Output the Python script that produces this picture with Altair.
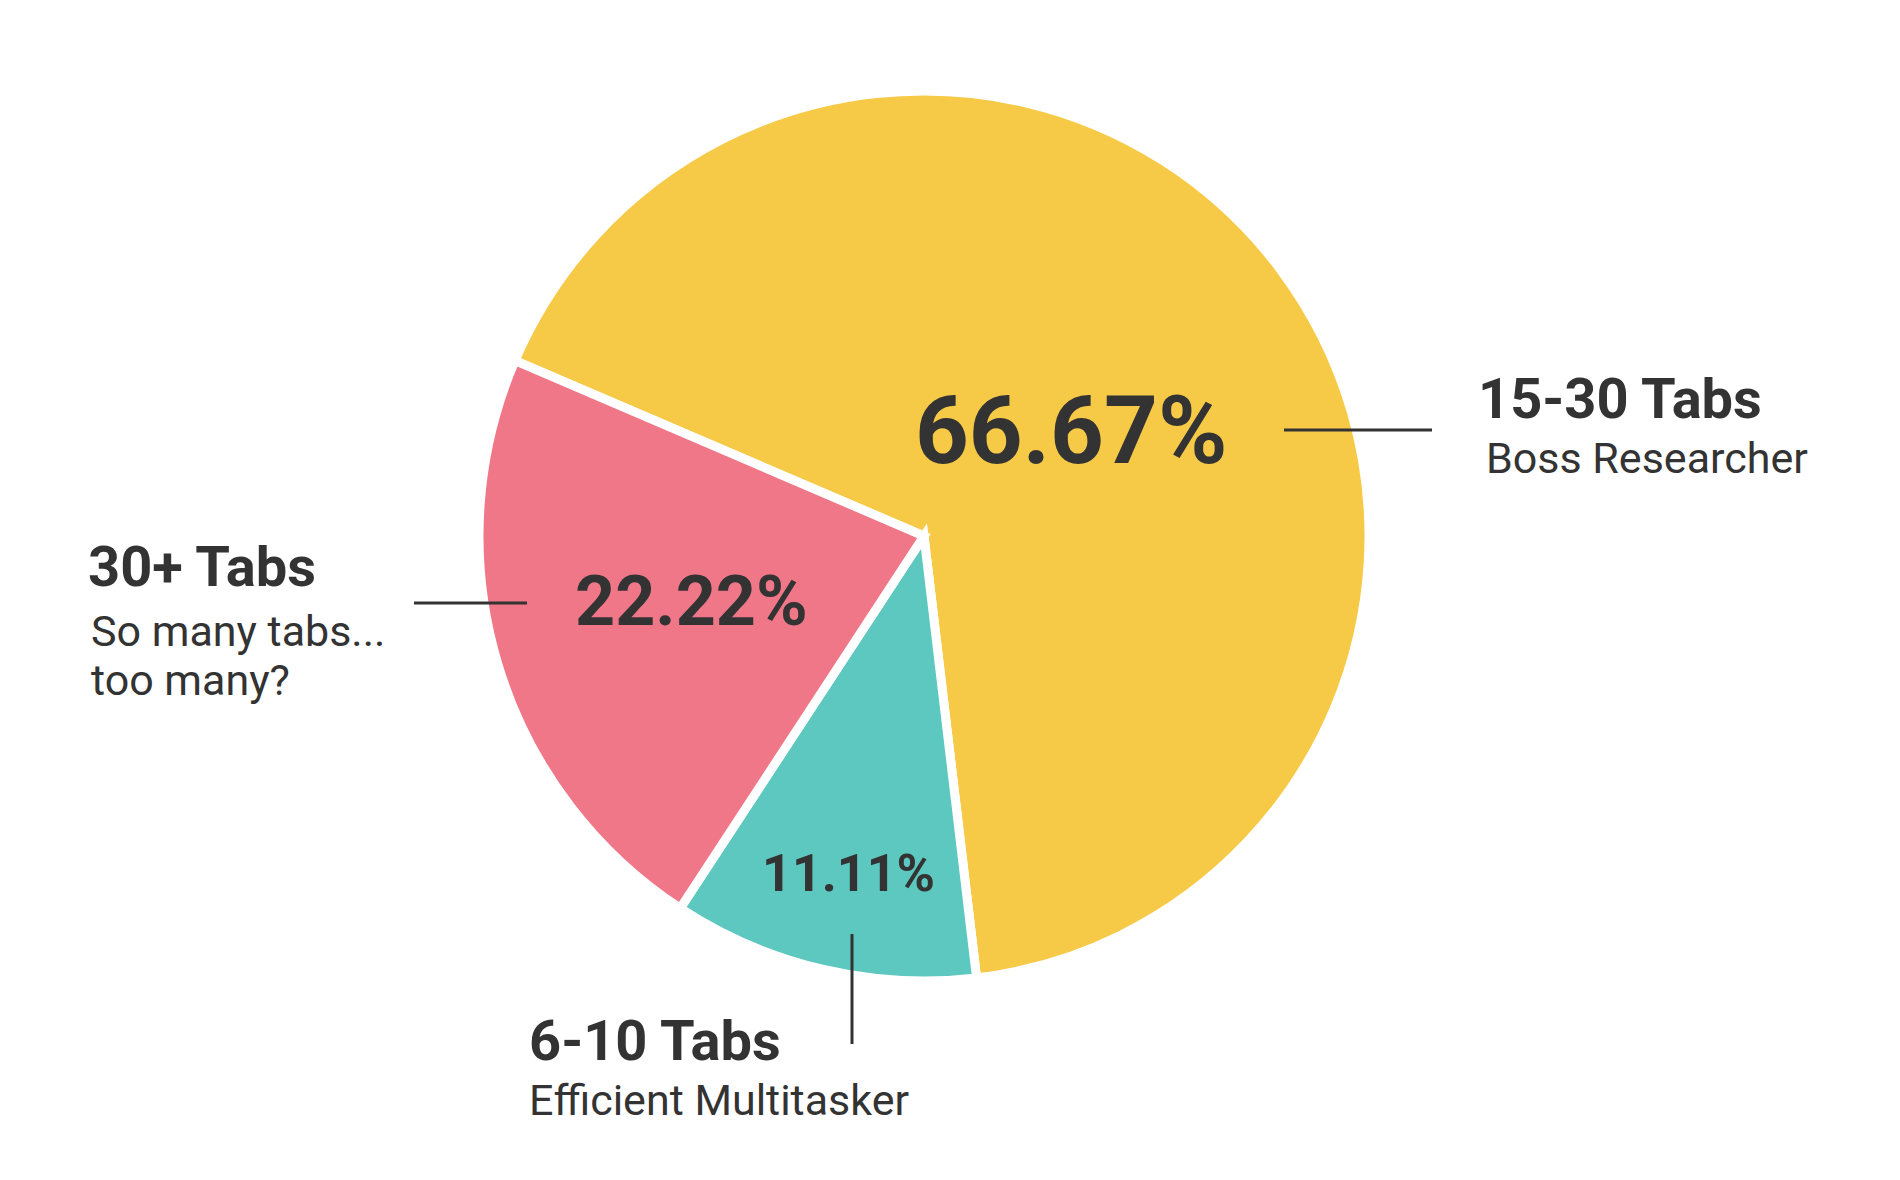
import math
import altair as alt
import pandas as pd

# ---- data ----
categories = ["15-30 Tabs", "6-10 Tabs", "30+ Tabs"]
shares = [66.67, 11.11, 22.22]
subtitles = ["Boss Researcher", "Efficient Multitasker", "So many tabs...\ntoo many?"]
order_idx = [0, 1, 2]

# ---- styling ----
colors = ["#F6CA47", "#5DC8BF", "#F07788"]
INK = "#333333"
FONT = "Roboto"
START = 293.2 * math.pi / 180  # where the first (yellow) slice begins, clockwise from 12 o'clock

df = pd.DataFrame({"category": categories, "share": shares,
                   "subtitle": subtitles, "idx": order_idx})

theta_scale = alt.Scale(domain=[0, 1], range=[START, START + 2 * math.pi])

base = (
    alt.Chart(df)
    .transform_joinaggregate(total="sum(share)")
    .transform_window(cum="sum(share)", sort=[alt.SortField("idx")], frame=[None, 0])
    .transform_calculate(
        t0="(datum.cum - datum.share) / datum.total",
        t1="datum.cum / datum.total",
        tm="(datum.cum - datum.share / 2) / datum.total",
        label="format(datum.share, '.2f') + '%'",
    )
)

pie = base.mark_arc(radius=445, stroke="white", strokeWidth=9).encode(
    theta=alt.Theta("t0:Q", scale=theta_scale),
    theta2="t1:Q",
    color=alt.Color("category:N", scale=alt.Scale(domain=categories, range=colors), legend=None),
)


def pct_label(cat, r, size, dy=0, dx=0):
    return (
        base.transform_filter(alt.datum.category == cat)
        .mark_text(radius=r, fontSize=size, font=FONT, fontWeight="bold", color=INK,
                   align="center", baseline="middle", dy=dy, dx=dx)
        .encode(theta=alt.Theta("tm:Q", scale=theta_scale), text="label:N")
    )


def title(cat, x, y):
    return (
        base.transform_filter(alt.datum.category == cat)
        .mark_text(align="left", baseline="alphabetic", fontSize=56, font=FONT,
                   fontWeight="bold", color=INK)
        .encode(x=alt.value(x), y=alt.value(y), text="category:N")
    )


def subtitle(cat, x, y):
    return (
        base.transform_filter(alt.datum.category == cat)
        .mark_text(align="left", baseline="alphabetic", fontSize=43, font=FONT,
                   color=INK, lineBreak="\n", lineHeight=49)
        .encode(x=alt.value(x), y=alt.value(y), text="subtitle:N")
    )


def hline(cat, x1, x2, y):
    return (
        base.transform_filter(alt.datum.category == cat)
        .mark_rule(color=INK, strokeWidth=3)
        .encode(x=alt.value(x1), x2=alt.value(x2), y=alt.value(y))
    )


def vline(cat, x, y1, y2):
    return (
        base.transform_filter(alt.datum.category == cat)
        .mark_rule(color=INK, strokeWidth=3)
        .encode(x=alt.value(x), y=alt.value(y1), y2=alt.value(y2))
    )


chart = alt.layer(
    pie,
    pct_label("15-30 Tabs", 180, 94, dy=7, dx=3),
    pct_label("30+ Tabs", 243, 70, dy=-2),
    pct_label("6-10 Tabs", 348, 52, dx=4),
    hline("15-30 Tabs", 1276, 1424, 422),
    hline("30+ Tabs", 406, 519, 595),
    vline("6-10 Tabs", 844, 926, 1036),
    title("15-30 Tabs", 1470, 410),
    subtitle("15-30 Tabs", 1478, 465),
    title("30+ Tabs", 80, 578),
    subtitle("30+ Tabs", 83, 638),
    title("6-10 Tabs", 521, 1052),
    subtitle("6-10 Tabs", 521, 1107),
).properties(width=1832, height=1056, padding=0).configure_view(stroke=None)

chart.save("out.html", embed_options={"renderer": "svg", "actions": False})
